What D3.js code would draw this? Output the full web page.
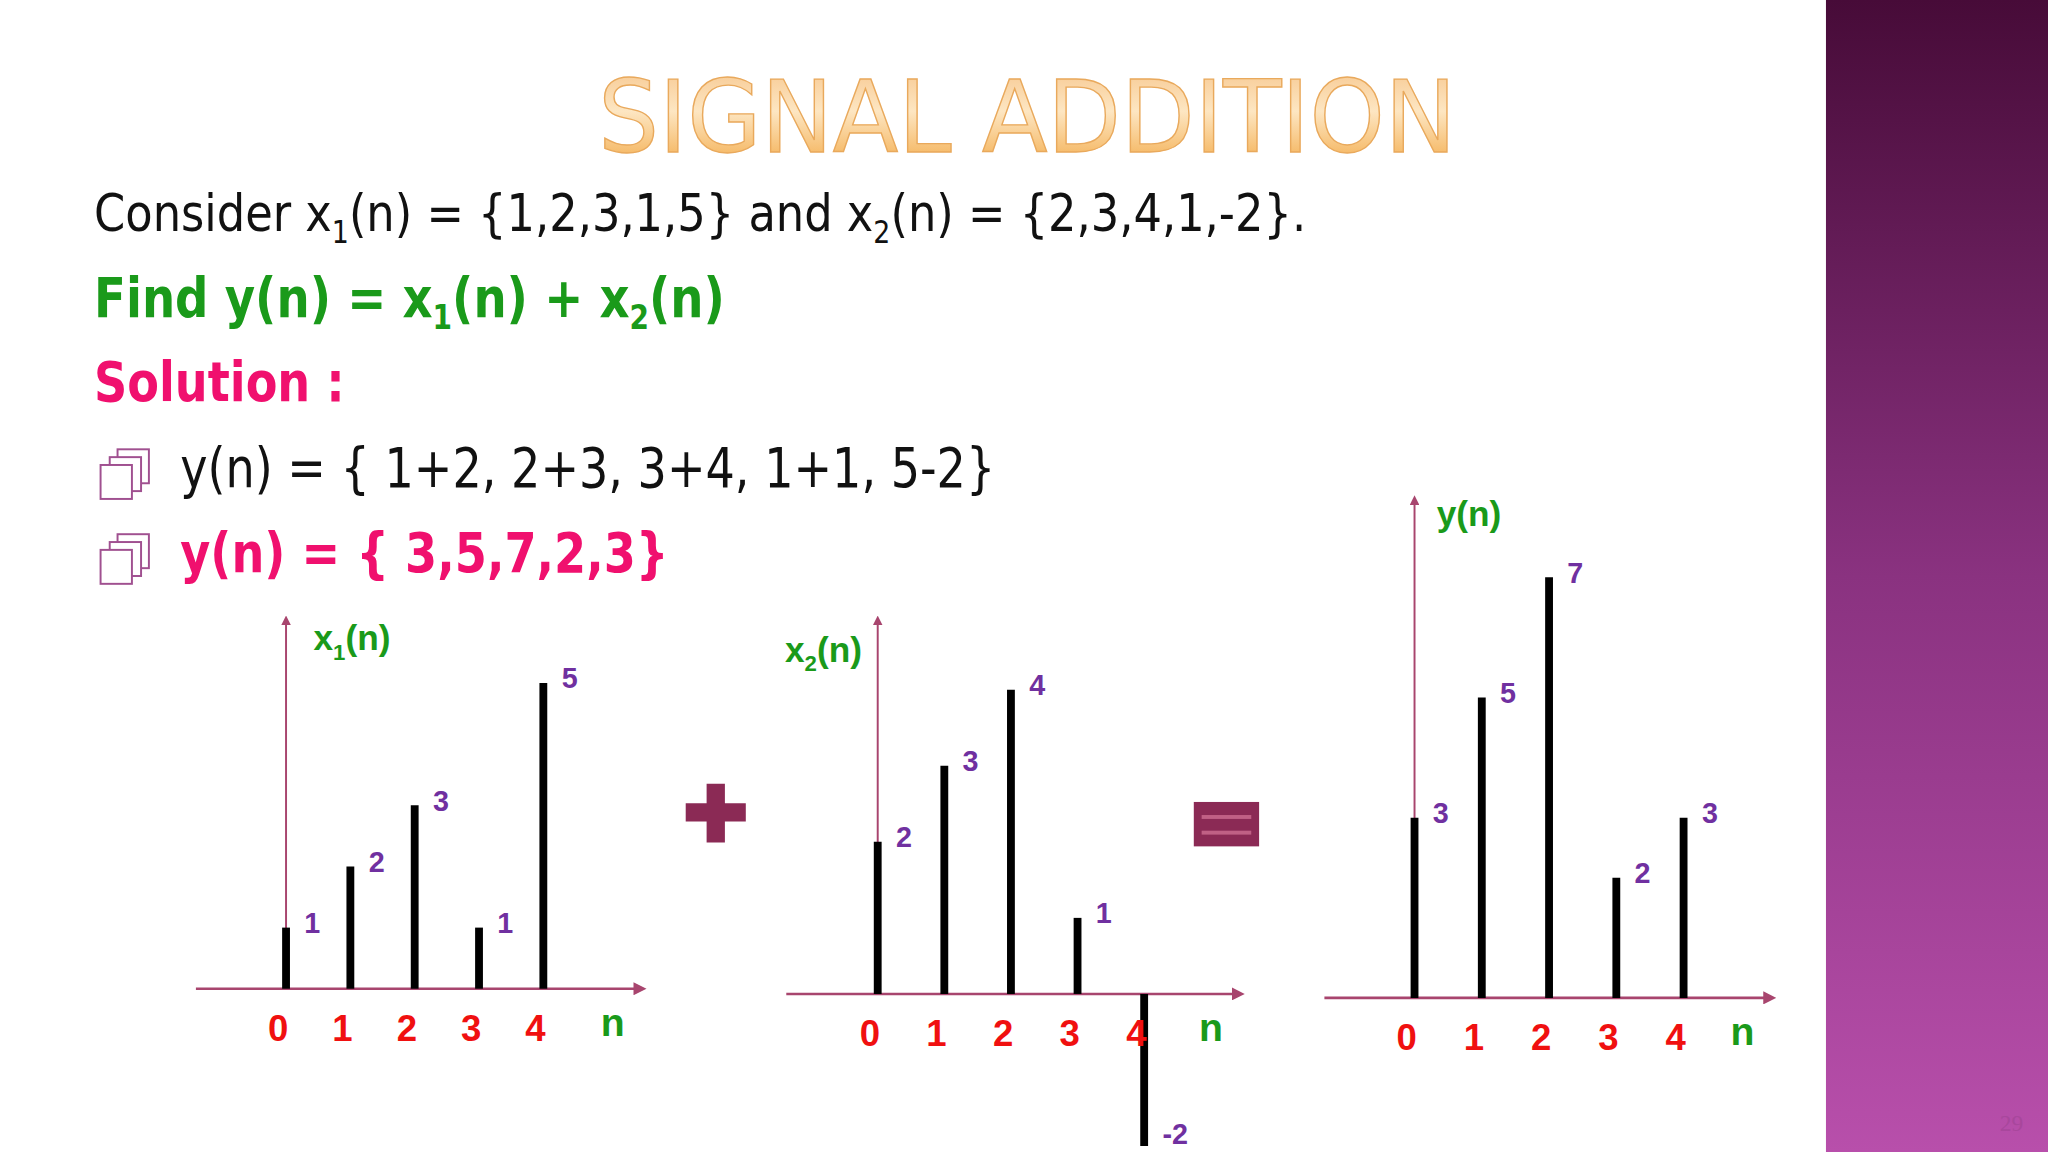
<!DOCTYPE html>
<html><head><meta charset="utf-8">
<script src="https://cdn.jsdelivr.net/npm/d3@7"></script>
<style>body{margin:0;background:#fff}svg{display:block}</style>
</head><body>
<svg id="slide" width="2048" height="1152" viewBox="0 0 1568 882"></svg>
<script>
'use strict';

const nIndex = [0, 1, 2, 3, 4];
const x1Values = [1, 2, 3, 1, 5];
const x2Values = [2, 3, 4, 1, -2];
const yValues = [3, 5, 7, 2, 3];

const svg = d3.select('#slide');
const defs = svg.append('defs');

const side = defs.append('linearGradient').attr('id', 'side').attr('x1', 0).attr('y1', 0).attr('x2', 0).attr('y2', 1);
side.append('stop').attr('offset', 0).attr('stop-color', '#470b38');
side.append('stop').attr('offset', 0.5).attr('stop-color', '#8a3280');
side.append('stop').attr('offset', 1).attr('stop-color', '#b84fab');

const gold = defs.append('linearGradient').attr('id', 'gold').attr('x1', 0).attr('y1', 0).attr('x2', 0).attr('y2', 1);
gold.append('stop').attr('offset', 0).attr('stop-color', '#f6c48a');
gold.append('stop').attr('offset', 0.45).attr('stop-color', '#fde6c2');
gold.append('stop').attr('offset', 1).attr('stop-color', '#f2a640');

svg.append('rect').attr('width', 1568).attr('height', 882).attr('fill', '#fff');
svg.append('rect').attr('x', 1398).attr('width', 170).attr('height', 882).attr('fill', 'url(#side)');
svg.append('text').attr('x', 1540).attr('y', 866).attr('font-family', 'Liberation Serif').attr('font-size', 18)
    .attr('fill', '#a8479c').attr('text-anchor', 'middle').text('29');

const font = '"DejaVu Sans Condensed", "Open Sans", sans-serif';

svg.append('text').attr('x', 458).attr('y', 116).attr('textLength', 657).attr('lengthAdjust', 'spacingAndGlyphs')
    .attr('font-family', font).attr('font-size', 76).attr('fill', 'url(#gold)')
    .attr('stroke', '#e9a95c').attr('stroke-width', 1).text('SIGNAL ADDITION');

// text lines with subscripts
const line = (x, y, size, color, weight, parts, len) => {
    const t = svg.append('text').attr('x', x).attr('y', y).attr('font-family', font)
        .attr('font-size', size).attr('fill', color).attr('font-weight', weight);
    if (len) t.attr('textLength', len).attr('lengthAdjust', 'spacingAndGlyphs');
    let down = false;
    parts.forEach(p => {
        if (typeof p === 'string') {
            const s = t.append('tspan').text(p);
            if (down) { s.attr('dy', -size * 0.22); down = false; }
        } else {
            t.append('tspan').attr('font-size', size * 0.6).attr('dy', size * 0.22).text(p.sub);
            down = true;
        }
    });
    return t;
};
line(72, 177, 40, '#111', 'normal', ['Consider x', {sub: '1'}, '(n) = {1,2,3,1,5} and x', {sub: '2'}, '(n) = {2,3,4,1,-2}.'], 928);
line(72, 243, 42, '#1a9a1a', 'bold', ['Find y(n) = x', {sub: '1'}, '(n) + x', {sub: '2'}, '(n)'], 483);
line(72, 307, 42, '#f0106e', 'bold', ['Solution :'], 192);
line(138, 373, 42, '#111', 'normal', ['y(n) = { 1+2, 2+3, 3+4, 1+1, 5-2}'], 624);
line(138, 438, 42, '#f0106e', 'bold', ['y(n) = { 3,5,7,2,3}'], 374);

// bullet icons
[360, 425].forEach(cy => {
    const g = svg.append('g').attr('fill', '#fff').attr('stroke', '#a05090').attr('stroke-width', 1.5);
    [[90, cy - 16], [84, cy - 10], [77, cy - 4]].forEach(([bx, by]) =>
        g.append('rect').attr('x', bx).attr('y', by).attr('width', 24).attr('height', 26));
});

defs.append('marker').attr('id', 'arrow').attr('viewBox', '0 0 10 10').attr('refX', 5).attr('refY', 5)
    .attr('markerWidth', 5).attr('markerHeight', 5).attr('orient', 'auto-start-reverse')
    .append('path').attr('d', 'M0,0L10,5L0,10z').attr('fill', '#a8456e');

function stemPlot(cfg) {
    const x = d3.scaleLinear().domain([0, 4]).range([cfg.x0, cfg.x4]);
    const y = d3.scaleLinear().domain([0, cfg.vmax]).range([cfg.base, cfg.top]);
    const g = svg.append('g');
    g.append('line').attr('x1', cfg.axL).attr('x2', cfg.axR).attr('y1', cfg.base).attr('y2', cfg.base)
        .attr('stroke', '#a8456e').attr('stroke-width', 2).attr('marker-end', 'url(#arrow)');
    g.append('line').attr('x1', x(0)).attr('x2', x(0)).attr('y1', cfg.base).attr('y2', cfg.axTop)
        .attr('stroke', '#a8456e').attr('stroke-width', 1.5).attr('marker-end', 'url(#arrow)');
    g.selectAll('.stem').data(cfg.values).join('line')
        .attr('x1', (d, i) => x(nIndex[i])).attr('x2', (d, i) => x(nIndex[i]))
        .attr('y1', y(0)).attr('y2', d => y(d)).attr('stroke', '#000').attr('stroke-width', 6);
    g.selectAll('.val').data(cfg.values).join('text')
        .attr('x', (d, i) => x(nIndex[i]) + 14).attr('y', d => d < 0 ? y(d) - 2 : y(d) + 4)
        .attr('font-family', 'Liberation Sans').attr('font-weight', 'bold').attr('font-size', 22)
        .attr('fill', '#7030a0').text(d => d);
    g.selectAll('.tick').data(nIndex).join('text')
        .attr('x', d => x(d) - 6).attr('y', cfg.base + 40).attr('text-anchor', 'middle')
        .attr('font-family', 'Liberation Sans').attr('font-weight', 'bold').attr('font-size', 28)
        .attr('fill', '#f01010').text(d => d);
    g.append('text').attr('x', cfg.axR - 30).attr('y', cfg.base + 36)
        .attr('font-family', 'Liberation Sans').attr('font-weight', 'bold').attr('font-size', 30)
        .attr('fill', '#1a9a1a').text('n');
    const lab = g.append('text').attr('x', cfg.labX).attr('y', cfg.labY)
        .attr('font-family', 'Liberation Sans').attr('font-weight', 'bold').attr('font-size', 27).attr('fill', '#1a9a1a');
    lab.append('tspan').text(cfg.label[0]);
    if (cfg.label[1]) {
        lab.append('tspan').attr('font-size', 17).attr('dy', 7).text(cfg.label[1]);
        lab.append('tspan').attr('dy', -7).text(cfg.label[2]);
    }
}

stemPlot({values: x1Values, x0: 219, x4: 416, base: 757, top: 523, vmax: 5, axL: 150, axR: 490, axTop: 475,
    label: ['x', '1', '(n)'], labX: 240, labY: 498});
stemPlot({values: x2Values, x0: 672, x4: 876, base: 761, top: 528, vmax: 4, axL: 602, axR: 948, axTop: 475,
    label: ['x', '2', '(n)'], labX: 601, labY: 507});
stemPlot({values: yValues, x0: 1083, x4: 1289, base: 764, top: 442, vmax: 7, axL: 1014, axR: 1355, axTop: 383,
    label: ['y(n)'], labX: 1100, labY: 403});

// operators
svg.append('path').attr('d', 'M541,600h14v15h16v14h-16v16h-14v-16h-16v-14h16z').attr('fill', '#8b2a55');
svg.append('rect').attr('x', 914).attr('y', 614).attr('width', 50).attr('height', 34).attr('fill', '#8b2a55');
svg.append('rect').attr('x', 920).attr('y', 624).attr('width', 38).attr('height', 3).attr('fill', '#c06085');
svg.append('rect').attr('x', 920).attr('y', 636).attr('width', 38).attr('height', 3).attr('fill', '#c06085');
</script>
</body></html>
